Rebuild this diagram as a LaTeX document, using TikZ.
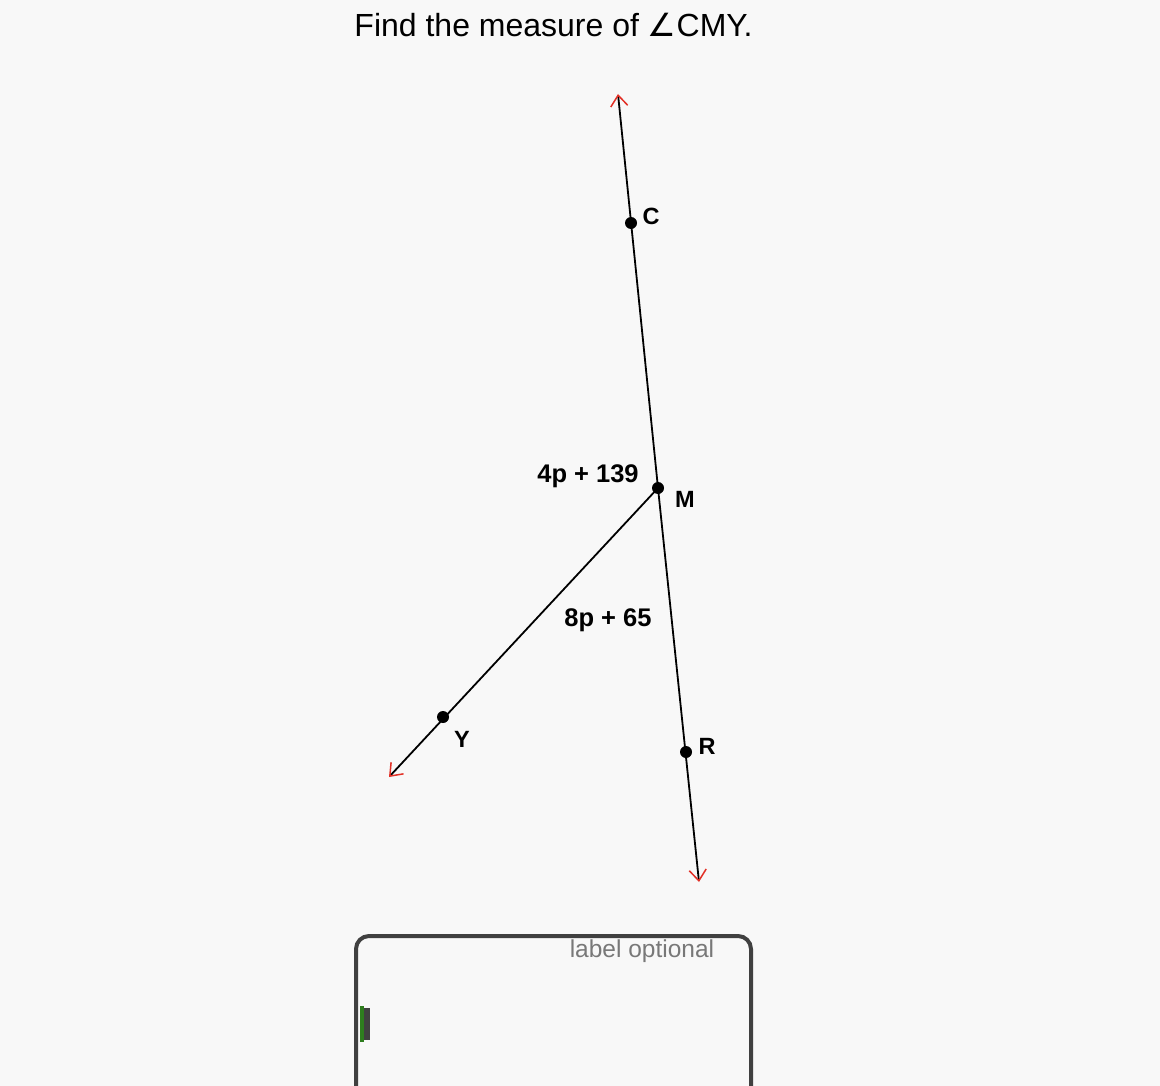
\documentclass[tikz,border=0pt]{standalone}
\usepackage{fontspec}
\setmainfont{Liberation Sans}
\newfontfamily\djv{DejaVu Sans}
\usetikzlibrary{arrows.meta}
\definecolor{bgc}{RGB}{248,248,248}
\definecolor{arrred}{RGB}{226,48,38}
\definecolor{boxgray}{RGB}{64,64,64}
\definecolor{lblgray}{RGB}{120,120,120}
\definecolor{curgreen}{RGB}{46,125,30}
\tikzset{
  dot/.style={circle,fill=black,inner sep=0pt,minimum size=12pt},
  ptlabel/.style={font=\fontsize{23.5}{26}\selectfont\bfseries,inner sep=0pt},
  anglabel/.style={font=\fontsize{25.5}{28}\selectfont\bfseries,inner sep=0pt},
  ray/.style={line width=1.8pt,black,-{Straight Barb[length=11pt,width=17pt,color=arrred,line width=1.5pt]}},
  answerbox/.style={line width=4pt,draw=boxgray,rounded corners=13pt}
}
\begin{document}
\begin{tikzpicture}[x=1pt,y=-1pt]
\useasboundingbox[fill=bgc] (0,0) rectangle (1160,1086);
% title
\node[font=\fontsize{32}{36}\selectfont,inner sep=0pt] (title) at (553.5,25) {Find the measure of {\djv ∠}CMY.};
% points
\node[dot] (C) at (631,223) {};
\node[dot] (M) at (658,488) {};
\node[dot] (R) at (686,752) {};
\node[dot] (Y) at (443,717) {};
\coordinate (Ctip) at (618,94);
\coordinate (Rtip) at (699,882);
\coordinate (Ytip) at (389,777);
% rays
\draw[ray] (M.center) -- (Ctip);
\draw[ray] (M.center) -- (Rtip);
\draw[ray] (M.center) -- (Ytip);
% labels
\node[ptlabel] (lC) at (651,216) {C};
\node[ptlabel] (lM) at (685,499) {M};
\node[ptlabel] (lR) at (707,746) {R};
\node[ptlabel] (lY) at (462,739) {Y};
\node[anglabel] (a1) at (588,476) {4p + 139};
\node[anglabel] (a2) at (608,620) {8p + 65};
% answer box
\draw[answerbox] (356,1100) -- (356,936) -- (751,936) -- (751,1100);
\node[font=\fontsize{24.5}{27}\selectfont,text=lblgray,inner sep=0pt] (lbl) at (642,951) {label optional};
\fill[curgreen] (359.5,1006) rectangle (363.5,1042);
\fill[boxgray] (363.5,1008) rectangle (370,1040);
\end{tikzpicture}
\end{document}
